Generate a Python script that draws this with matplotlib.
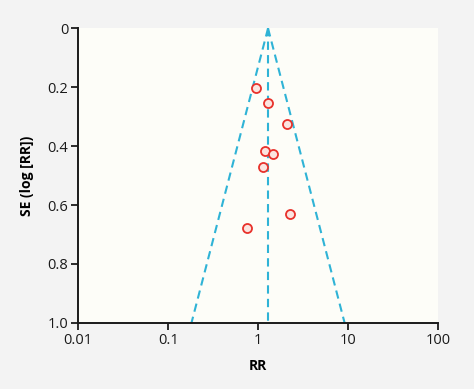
import matplotlib.pyplot as plt
import numpy as np

# study estimates
rr = [0.96, 1.28, 2.08, 1.18, 1.47, 1.13, 2.27, 0.75]
se = [0.202, 0.253, 0.325, 0.416, 0.426, 0.470, 0.631, 0.678]
pooled_rr = 1.29
xticks = [0.01, 0.1, 1, 10, 100]
xtick_labels = ['0.01', '0.1', '1', '10', '100']
yticks = [0, 0.2, 0.4, 0.6, 0.8, 1.0]
ytick_labels = ['0', '0.2', '0.4', '0.6', '0.8', '1.0']

plt.rcParams['font.family'] = ['Open Sans', 'DejaVu Sans']

fig = plt.figure(figsize=(4.74, 3.89), dpi=100, facecolor='#f3f3f3')
ax = fig.add_axes([0.165, 0.170, 0.759, 0.757])
ax.set_facecolor('#fdfdf8')

blue = '#2fb3d6'
se_line = np.array([0, 1.0])
lo = np.exp(np.log(pooled_rr) - 1.96 * se_line)
hi = np.exp(np.log(pooled_rr) + 1.96 * se_line)
ax.plot(lo, se_line, color=blue, lw=1.5, ls=(0, (4, 2.5)))
ax.plot(hi, se_line, color=blue, lw=1.5, ls=(0, (4, 2.5)))
ax.plot([pooled_rr, pooled_rr], [0, 1.0], color=blue, lw=1.5, ls=(0, (4, 2.5)))

ax.plot(rr, se, 'o', ms=6.5, mfc='#fbe4e0', mec='#e8312b', mew=1.3, zorder=3)

ax.set_xscale('log')
ax.set_xlim(0.01, 100)
ax.set_ylim(1.0, 0)
ax.set_xticks(xticks)
ax.set_xticklabels(xtick_labels)
ax.minorticks_off()
ax.set_yticks(yticks)
ax.set_yticklabels(ytick_labels)

for s in ['top', 'right']:
    ax.spines[s].set_visible(False)
for s in ['left', 'bottom']:
    ax.spines[s].set_linewidth(1.4)
    ax.spines[s].set_color('#1a1a1a')
ax.tick_params(direction='out', length=5, width=1.3, labelsize=10.5, colors='#1a1a1a', pad=2)

ax.set_xlabel('RR', fontsize=10, fontweight='bold', labelpad=8)
ax.set_ylabel('SE (log [RR])', fontsize=10, fontweight='bold', labelpad=10)

fig.savefig('out.png', dpi=100, facecolor=fig.get_facecolor())
